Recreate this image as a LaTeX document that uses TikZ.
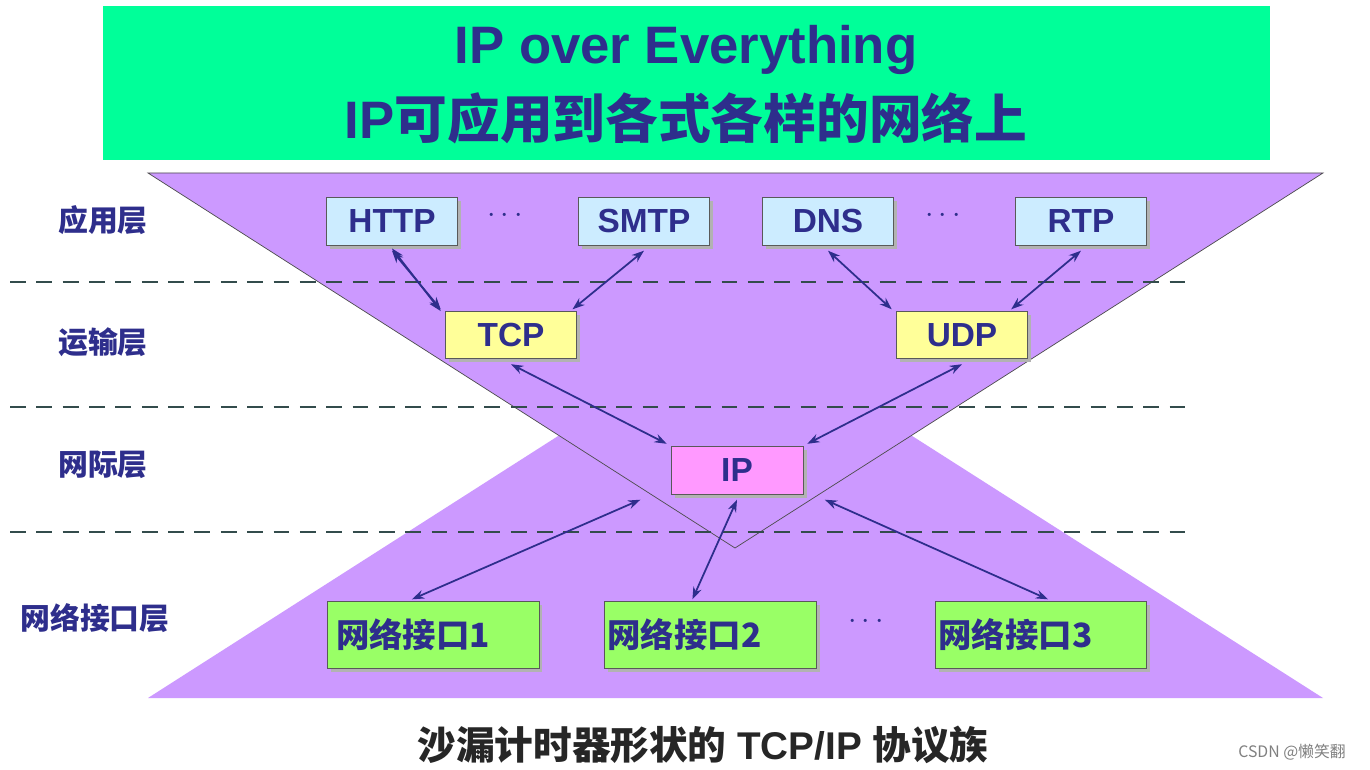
\documentclass[tikz,border=0pt]{standalone}
\usepackage{fontspec}
\setmainfont{Liberation Sans}
\newfontfamily\cjk{Noto Sans CJK SC}
\usetikzlibrary{arrows.meta,shadows}
\definecolor{tb}{HTML}{2E2E8C}
\definecolor{pur}{HTML}{CC99FF}
\tikzset{
 box/.style={draw=gray!70!black,line width=0.5pt,inner sep=0pt,drop shadow={shadow xshift=2pt,shadow yshift=-2pt,fill=gray!60,opacity=1},font=\bfseries\fontsize{19}{19}\selectfont,text=tb},
 lay/.style={font=\cjk\bfseries\fontsize{17}{17}\selectfont,text=tb},
 dl/.style={dashed,dash pattern=on 9pt off 6pt,line width=1.3pt,color=gray!50!black!80!teal},
 ar/.style={{Stealth[length=7pt,width=5pt]}-{Stealth[length=7pt,width=5pt]},line width=1pt,color=tb},
 dots/.style={font=\bfseries\fontsize{16}{16}\selectfont,text=tb}
}
\begin{document}
\begin{tikzpicture}[x=0.02cm,y=-0.02cm]
\useasboundingbox (0,0) rectangle (1370,770);
\fill[white] (0,0) rectangle (1370,770);
\fill[green!100!cyan!0,fill={rgb,255:red,0;green,255;blue,153}] (103,6) rectangle (1270,160);
\node[font=\bfseries\fontsize{30}{30}\selectfont,text=tb] (t1) at (686,50) {IP over Everything};
\node[font=\bfseries\fontsize{30}{30}\selectfont,text=tb] (t2) at (686,118) {IP{\cjk 可应用到各式各样的网络上}};
\fill[pur] (148,698) -- (735,323) -- (1323,698) -- cycle;
\filldraw[fill=pur,draw=gray!60!black,line width=0.4pt] (148,173) -- (1323,173) -- (735,548) -- cycle;
\foreach \y in {282,407,532} \draw[dl] (10,\y) -- (1190,\y);
\node[lay] (l1) at (103,220) {应用层};
\node[lay] (l2) at (103,342) {运输层};
\node[lay] (l3) at (103,465) {网际层};
\node[lay] (l4) at (95,618) {网络接口层};
\tikzset{ab/.style={box,fill={rgb,255:red,204;green,236;blue,255},minimum width=2.62cm,minimum height=0.96cm}}
\node[ab] (http) at (392,221) {HTTP};
\node[ab] (smtp) at (644,221) {SMTP};
\node[ab] (dns) at (828,221) {DNS};
\node[ab] (rtp) at (1081,221) {RTP};
\node[dots] (d1) at (505,216) {$\cdots$};
\node[dots] (d2) at (943,216) {$\cdots$};
\tikzset{tb2/.style={box,fill={rgb,255:red,255;green,255;blue,153},minimum width=2.62cm,minimum height=0.94cm}}
\node[tb2] (tcp) at (511,335) {TCP};
\node[tb2] (udp) at (962,335) {UDP};
\node[box,fill={rgb,255:red,255;green,153;blue,255},minimum width=2.64cm,minimum height=0.96cm] (ip) at (737,470) {IP};
\tikzset{nb/.style={box,fill={rgb,255:red,153;green,255;blue,102},minimum height=1.34cm,text width=4.1cm,align=left,font=\cjk\bfseries\fontsize{19}{19}\selectfont}}
\node[nb,minimum width=4.24cm] (n1) at (433,635) {\,网络接口1};
\node[nb,minimum width=4.24cm] (n2) at (710,635) {网络接口2};
\node[nb,minimum width=4.22cm] (n3) at (1041,635) {网络接口3};
\node[dots] (d3) at (866,622) {$\cdots$};
\draw[ar] ([xshift=0pt]http.south) ++(0,3) coordinate (a1) (a1) -- ([xshift=-40pt]tcp.north);
\draw[ar] ([yshift=-3pt]http.south) -- ([xshift=-40pt,yshift=1pt]tcp.north);
\draw[ar] ([yshift=-3pt]smtp.south) -- ([xshift=35pt,yshift=1pt]tcp.north);
\draw[ar] ([yshift=-3pt]dns.south) -- ([xshift=-40pt,yshift=1pt]udp.north);
\draw[ar] ([yshift=-3pt]rtp.south) -- ([xshift=28pt,yshift=1pt]udp.north);
\draw[ar] ([yshift=-3pt]tcp.south) -- ([xshift=-40pt,yshift=1pt]ip.north);
\draw[ar] ([yshift=-3pt]udp.south) -- ([xshift=40pt,yshift=1pt]ip.north);
\draw[ar] ([xshift=-55pt,yshift=-3pt]ip.south) -- ([xshift=-12pt,yshift=1pt]n1.north);
\draw[ar] ([xshift=0pt,yshift=-3pt]ip.south) -- ([xshift=-10pt,yshift=1pt]n2.north);
\draw[ar] ([xshift=50pt,yshift=-3pt]ip.south) -- ([xshift=4pt,yshift=1pt]n3.north);
\node[font=\bfseries\fontsize{22}{22}\selectfont,text=gray!30!black] (cap) at (703,745) {{\cjk 沙漏计时器形状的} TCP/IP {\cjk 协议族}};
\node[font=\cjk\fontsize{9}{9}\selectfont,text=gray] (wm) at (1292,752) {CSDN @懒笑翻};
\end{tikzpicture}
\end{document}
